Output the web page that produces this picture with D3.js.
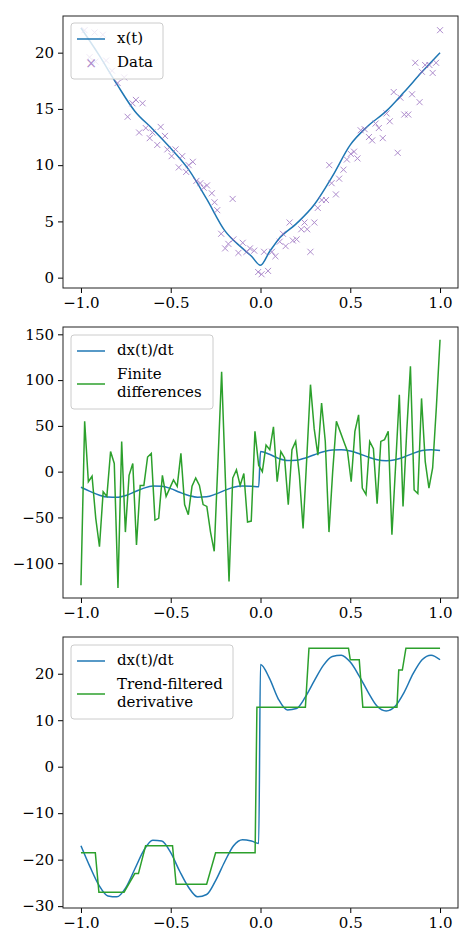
<!DOCTYPE html>
<html><head><meta charset="utf-8">
<script src="https://cdn.jsdelivr.net/npm/d3@7"></script>
<style>body{margin:0;background:#fff}svg text{font-family:"DejaVu Serif",serif}</style>
</head><body><svg id="c" width="474" height="948"></svg>
<script>
// x(t) smooth curve
const xT = [-1,-0.9,-0.8,-0.7,-0.6,-0.5,-0.4,-0.3,-0.2,-0.1,-0.05,0,0.05,0.1,0.2,0.3,0.4,0.5,0.6,0.7,0.8,0.9,1];
const xV = [22.2,19.8,17.2,14.8,13.2,11.5,9.6,7.0,4.2,2.6,1.9,1.1,2.3,3.4,4.8,6.5,9.0,11.8,13.5,14.8,16.5,18.3,20.0];
// noisy samples
const dataT = [-0.980,-0.952,-0.924,-0.919,-0.878,-0.860,-0.827,-0.796,-0.759,-0.740,-0.713,-0.694,-0.676,-0.657,-0.639,-0.617,-0.602,-0.575,-0.556,-0.532,-0.519,-0.495,-0.473,-0.455,-0.436,-0.414,-0.400,-0.377,-0.357,-0.335,-0.317,-0.298,-0.271,-0.256,-0.241,-0.219,-0.197,-0.179,-0.155,-0.151,-0.123,-0.099,-0.077,-0.059,-0.035,-0.013,0.006,0.020,0.042,0.064,0.083,0.107,0.125,0.140,0.162,0.180,0.201,0.227,0.245,0.260,0.278,0.300,0.319,0.341,0.365,0.383,0.396,0.420,0.438,0.462,0.481,0.503,0.521,0.540,0.558,0.580,0.604,0.622,0.641,0.659,0.681,0.702,0.720,0.742,0.764,0.779,0.801,0.823,0.844,0.862,0.886,0.899,0.917,0.941,0.959,0.978,1.0];
const dataV = [22.0,19.6,21.8,19.2,21.6,19.3,18.4,17.3,17.8,14.3,15.5,15.8,12.9,15.5,13.3,12.4,12.9,11.8,13.4,12.6,11.4,10.8,11.4,9.8,10.8,9.4,10.0,10.3,8.6,8.4,8.0,8.2,7.5,6.7,6.0,3.9,2.6,3.0,7.0,3.4,2.2,3.1,2.3,2.6,2.4,0.5,0.3,2.3,0.6,2.3,1.9,3.2,3.9,2.8,4.9,3.3,3.4,4.3,4.9,4.3,2.3,4.9,6.2,6.9,6.9,10.0,8.4,7.4,8.8,9.6,10.5,11.0,11.2,10.6,13.1,13.2,12.5,12.2,13.7,13.3,12.4,14.6,13.9,16.5,11.1,16.0,14.5,14.5,16.3,19.1,15.6,18.3,18.9,18.9,18.2,19.1,22.0];
// true derivative
const dT = [-1,-0.95,-0.9,-0.85,-0.8,-0.75,-0.7,-0.65,-0.6,-0.55,-0.5,-0.45,-0.4,-0.35,-0.3,-0.25,-0.2,-0.15,-0.1,-0.05,-0.01,0,0.05,0.1,0.15,0.2,0.25,0.3,0.35,0.4,0.45,0.5,0.55,0.6,0.65,0.7,0.75,0.8,0.85,0.9,0.95,1];
const dV = [-17,-21.5,-25.5,-27.8,-28,-26,-22,-18,-15.8,-16,-18.5,-22.5,-26,-28,-27.5,-24.5,-20.5,-17,-15.7,-16,-16.5,22,19,14.5,12.2,12.5,15,18.5,21.8,23.7,24,22.5,19.5,16,13,12,13,16,20,23,24,23];
// finite differences (uniform grid from -1 to 1)
const fdV = [-124,55,-11,-5,-51,-82,-22,-27,22,9,-127,33,-66,-4,9,-80,-15,-15,16,20,-53,-51,-4,
  -27,-18,-9,-16,20,-36,-47,-16,-7,-15,-36,-38,-66,-87,10,109,-7,-120,-7,2,-15,-2,-55,-54,
  44,7,0,29,24,49,-11,22,15,-36,24,33,-4,-62,15,95,47,18,75,33,-66,0,55,44,33,22,-11,
  44,62,-18,-25,33,25,-35,33,35,44,-69,7,84,-38,44,115,-20,-24,80,11,-18,4,70,144];
// trend-filtered derivative (steps)
const tfT = [-1,-0.92,-0.9,-0.76,-0.7,-0.68,-0.64,-0.49,-0.47,-0.3,-0.25,-0.03,-0.02,0.25,0.27,0.49,0.5,0.55,0.57,0.76,0.77,0.79,0.81,1];
const tfV = [-18.5,-18.5,-27,-27,-23,-23,-17,-17,-25.3,-25.3,-18.5,-18.5,12.8,12.8,25.5,25.5,23,23,12.8,12.8,20.8,20.8,25.5,25.5];
const xTicks = [-1,-0.5,0,0.5,1];

const svg = d3.select("#c");
const blue = "#1f77b4", green = "#2ca02c", purple = "#9467bd";
const fmt = d => d3.format(".1f")(d).replace("-", "\u2212");
const fmtI = d => String(d).replace("-", "\u2212");

function panel(top, bottom, yDom, yTicks) {
  const x = d3.scaleLinear().domain([-1.1, 1.1]).range([63, 458]);
  const y = d3.scaleLinear().domain(yDom).range([bottom, top]);
  const g = svg.append("g");
  g.append("g").attr("transform", `translate(0,${bottom})`)
    .call(d3.axisBottom(x).tickValues(xTicks).tickFormat(fmt).tickSize(5).tickPadding(4))
    .call(a => a.select(".domain").remove());
  g.append("g").attr("transform", "translate(63,0)")
    .call(d3.axisLeft(y).tickValues(yTicks).tickFormat(fmtI).tickSize(5).tickPadding(4))
    .call(a => a.select(".domain").remove());
  g.selectAll(".tick text").attr("font-size", 15).attr("fill", "#000");
  g.selectAll(".tick line").attr("stroke", "#000");
  const plot = g.append("g");
  g.append("rect").attr("x", 63).attr("y", top).attr("width", 395).attr("height", bottom - top)
    .attr("fill", "none").attr("stroke", "#222").attr("stroke-width", 1);
  return {x, y, plot, g};
}
function line(p, T, V, color, curve) {
  p.plot.append("path").datum(T.map((t, i) => [t, V[i]]))
    .attr("fill", "none").attr("stroke", color).attr("stroke-width", 1.5)
    .attr("d", d3.line().x(d => p.x(d[0])).y(d => p.y(d[1])).curve(curve || d3.curveLinear));
}
function legend(p, x0, y0, w, items) {
  const h = items.reduce((s, it) => s + it.lines.length * 18 + 6, 8);
  const lg = p.g.append("g");
  lg.append("rect").attr("x", x0).attr("y", y0).attr("width", w).attr("height", h).attr("rx", 3)
    .attr("fill", "rgba(255,255,255,0.8)").attr("stroke", "#ccc");
  let yy = y0 + 6;
  items.forEach(it => {
    const mid = yy + it.lines.length * 9 + 1;
    if (it.marker) {
      lg.append("text").attr("x", x0 + 20).attr("y", mid + 5).attr("text-anchor", "middle")
        .attr("font-size", 14).attr("fill", it.color).attr("opacity", 0.75).text("\u00d7");
    } else {
      lg.append("line").attr("x1", x0 + 6).attr("x2", x0 + 34).attr("y1", mid).attr("y2", mid)
        .attr("stroke", it.color).attr("stroke-width", 1.5);
    }
    it.lines.forEach((s, k) => lg.append("text").attr("x", x0 + 46).attr("y", yy + 14 + k * 18)
      .attr("font-size", 15).text(s));
    yy += it.lines.length * 18 + 6;
  });
}

// panel 1
const p1 = panel(16, 288, [-0.92, 23.26], [0, 5, 10, 15, 20]);
line(p1, xT, xV, blue, d3.curveMonotoneX);
p1.plot.selectAll("g.m").data(dataT.map((t, i) => [t, dataV[i]])).join("g")
  .attr("transform", d => `translate(${p1.x(d[0])},${p1.y(d[1])})`)
  .call(s => s.append("path").attr("d", "M-3,-3L3,3M-3,3L3,-3")
    .attr("stroke", purple).attr("stroke-width", 1).attr("opacity", 0.75));
legend(p1, 71, 23, 92, [{lines: ["x(t)"], color: blue}, {lines: ["Data"], color: purple, marker: true}]);

// panel 2
const p2 = panel(327, 598, [-138, 158], [-100, -50, 0, 50, 100, 150]);
const fdT = fdV.map((v, i) => -1 + 2 * i / (fdV.length - 1));
line(p2, dT, dV, blue, d3.curveMonotoneX);
line(p2, fdT, fdV, green);
legend(p2, 71, 335, 142, [{lines: ["dx(t)/dt"], color: blue}, {lines: ["Finite", "differences"], color: green}]);

// panel 3
const p3 = panel(637, 908, [-30.4, 27.9], [-30, -20, -10, 0, 10, 20]);
line(p3, dT, dV, blue, d3.curveMonotoneX);
line(p3, tfT, tfV, green);
legend(p3, 71, 645, 162, [{lines: ["dx(t)/dt"], color: blue}, {lines: ["Trend-filtered", "derivative"], color: green}]);
</script></body></html>
